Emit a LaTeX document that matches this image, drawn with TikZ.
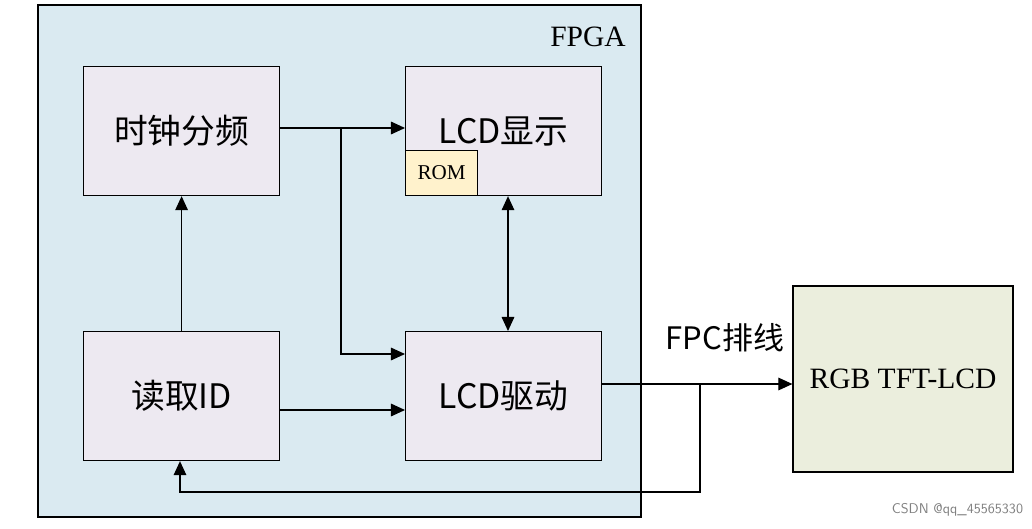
\documentclass[tikz,border=0pt]{standalone}
\usepackage{fontspec}
\setmainfont{Liberation Serif}
\newfontfamily\cjk{Noto Sans CJK SC}
\usetikzlibrary{positioning,arrows.meta}

\begin{document}
\begin{tikzpicture}[x=0.025cm,y=-0.025cm,
		block/.style={draw,thick,fill=boxfill,minimum width=4.9cm,minimum height=3.225cm,font=\fontsize{24}{28}\selectfont\cjk},
		arr/.style={-{Triangle[length=10pt,width=9pt]},thick}
		]
	\definecolor{fpgafill}{HTML}{DAEAF1}
	\definecolor{boxfill}{HTML}{EDE9F1}
	\definecolor{romfill}{HTML}{FFF2CC}
	\definecolor{lcdfill}{HTML}{EBEEDD}
	\useasboundingbox (0,0) rectangle (1032,528);
	\draw[thick,fill=fpgafill] (38,5) rectangle (641,517);
	\node[font=\fontsize{21}{24}\selectfont] (fpga) at (588,37) {FPGA};

	\node[block,anchor=north west] (clk) at (83,66) {时钟分频};
	\node[block,anchor=north west] (disp) at (405,66) {LCD显示};
	\node[block,anchor=north west] (id) at (83,331) {读取ID};
	\node[block,anchor=north west] (drv) at (405,331) {LCD驱动};
	\node[draw,thick,fill=romfill,anchor=south west,minimum width=1.8cm,minimum height=1.125cm,
		font=\fontsize{15}{18}\selectfont] (rom) at (disp.south west) {ROM};
	\node[draw,thick,fill=lcdfill,minimum width=5.5cm,minimum height=4.65cm,
		font=\fontsize{21}{24}\selectfont] (tft) at (903,379) {RGB TFT-LCD};
	\node[font=\fontsize{22}{26}\selectfont\cjk] (fpc) at (725,338) {FPC排线};

	\coordinate (split) at (341,128);
	\coordinate (tap) at (700,384);
	\coordinate (low) at (700,492);
	\draw[arr] (clk.east |- split) -- (disp.west |- split);
	\draw[arr] (split) |- (drv.west |- 0,354);
	\draw[arr] (id.north) -- (clk.south);
	\draw[arr] (id.east |- 0,410) -- (drv.west |- 0,410);
	\draw[{Triangle[length=10pt,width=9pt]}-{Triangle[length=10pt,width=9pt]},thick] (drv.north -| 508,0) -- (disp.south -| 508,0);
	\draw[arr] (drv.east |- tap) -- (tft.west |- tap);
	\draw[arr] (tap) -- (low) -| (id.south -| 180,0);

	\node[text=gray,font=\fontsize{10}{12}\selectfont\sffamily,anchor=east] (mark) at (1028,510) {CSDN @qq\_45565330};
\end{tikzpicture}
\end{document}
